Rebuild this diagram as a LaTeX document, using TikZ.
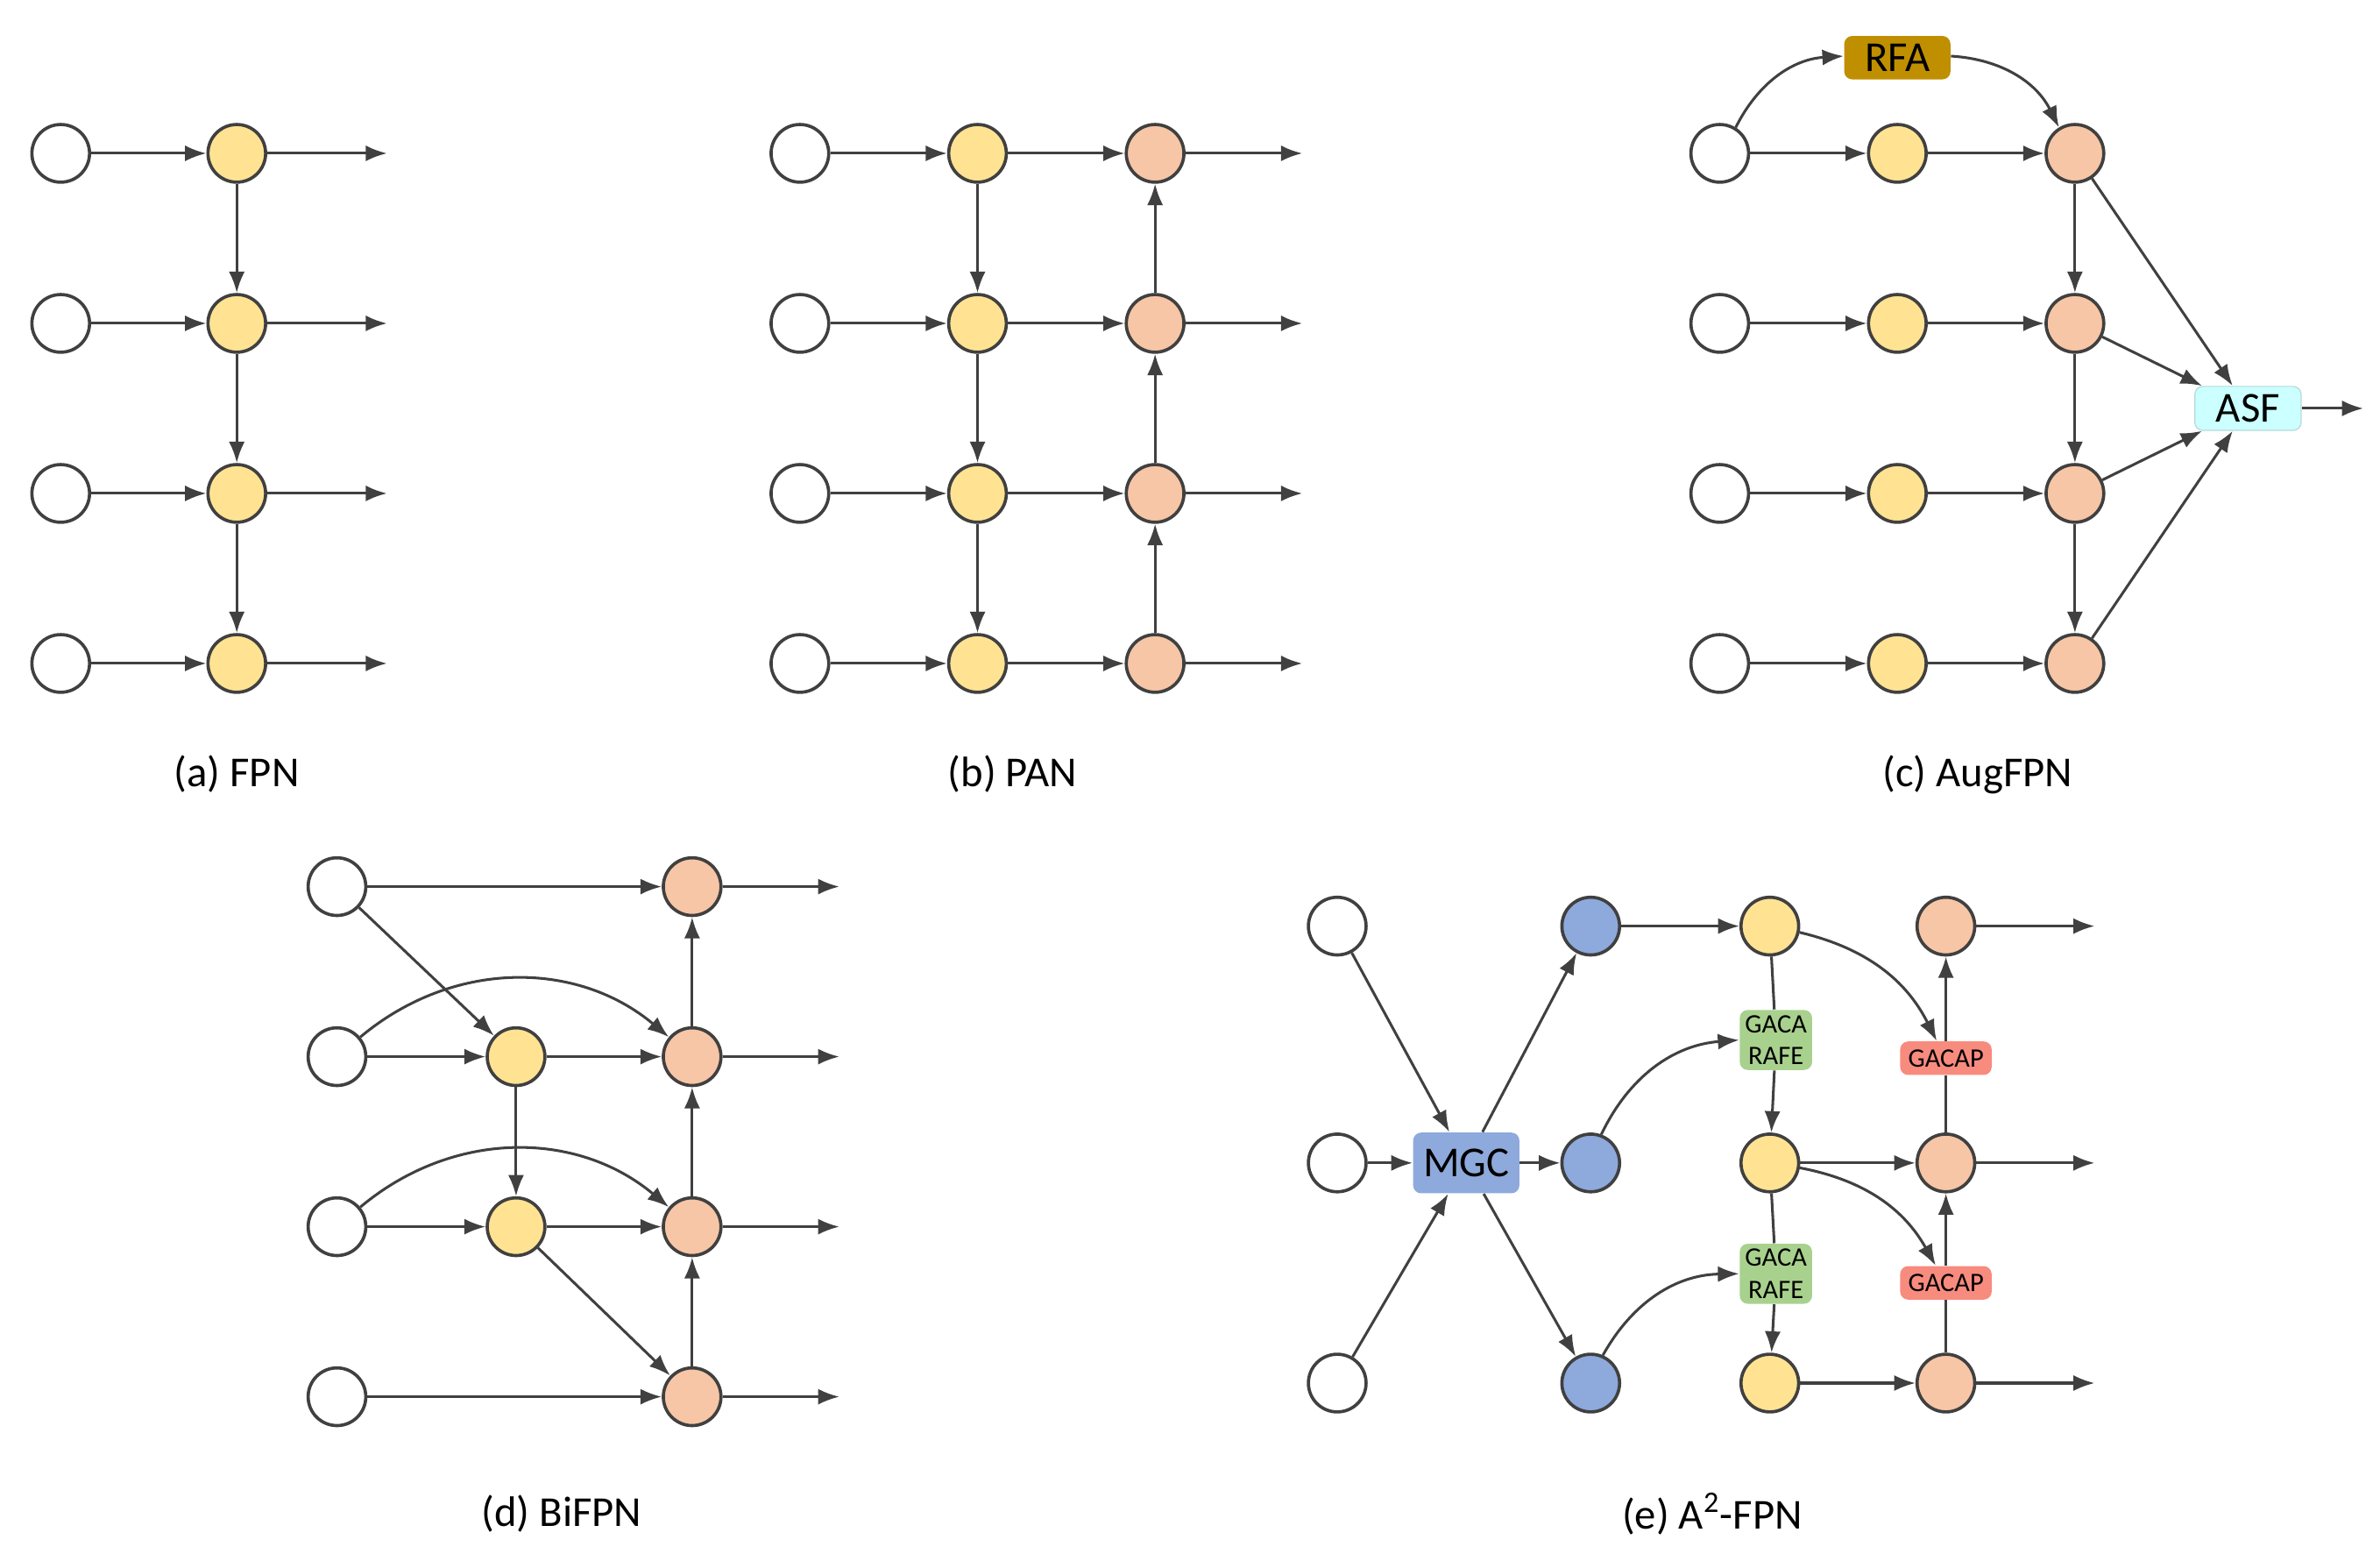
\documentclass[tikz,border=0pt]{standalone}
\usepackage{fontspec}
\setmainfont{Carlito}
\usetikzlibrary{arrows.meta}
\definecolor{ln}{HTML}{404040}
\definecolor{yel}{HTML}{FFE393}
\definecolor{pch}{HTML}{F7C6A6}
\definecolor{blu}{HTML}{8EA9DB}
\definecolor{grn}{HTML}{A9D18E}
\definecolor{rd}{HTML}{F78B7E}
\definecolor{cyn}{HTML}{CCFFFF}
\definecolor{gld}{HTML}{BF8F00}
\begin{document}
\begin{tikzpicture}[x={(0.02cm,0)}, y={(0,-0.02cm)},
  every node/.style={font=\fontsize{16}{19}\selectfont},
  circ/.style={circle, draw=ln, line width=1.2pt, minimum size=0.76cm, inner sep=0pt},
  wn/.style={circ, fill=white}, yn/.style={circ, fill=yel}, pn/.style={circ, fill=pch}, bn/.style={circ, fill=blu},
  box/.style={rounded corners=3pt, inner sep=3pt, align=center},
  small/.style={font=\fontsize{10}{12}\selectfont},
  arr/.style={-{Latex[length=8pt,width=6pt]}, ln, line width=1pt},
  lin/.style={ln, line width=1pt}]
\useasboundingbox (0,0) rectangle (1568,1028);
% (a) FPN
\foreach \i/\r in {0/101,1/213,2/325,3/437}{
  \node[wn] (aw\i) at (40,\r) {};
  \node[yn] (ay\i) at (156,\r) {};
  \coordinate (ao\i) at (255,\r);
  \draw[arr] (aw\i) -- (ay\i); \draw[arr] (ay\i) -- (ao\i);}
\foreach \i/\j in {0/1,1/2,2/3} \draw[arr] (ay\i) -- (ay\j);
\node at (156,510) {(a) FPN};
% (b) PAN
\foreach \i/\r in {0/101,1/213,2/325,3/437}{
  \node[wn] (bw\i) at (527,\r) {};
  \node[yn] (by\i) at (644,\r) {};
  \node[pn] (bp\i) at (761,\r) {};
  \coordinate (bo\i) at (858,\r);
  \draw[arr] (bw\i) -- (by\i); \draw[arr] (by\i) -- (bp\i); \draw[arr] (bp\i) -- (bo\i);}
\foreach \i/\j in {0/1,1/2,2/3} {\draw[arr] (by\i) -- (by\j); \draw[arr] (bp\j) -- (bp\i);}
\node at (667,510) {(b) PAN};
% (c) AugFPN
\node[box, fill=cyn, draw=cyn!70!gray, minimum width=1.4cm] (asf) at (1481,269) {ASF};
\node[box, fill=gld, minimum width=1.4cm] (rfa) at (1250,38) {RFA};
\coordinate (co) at (1557,269);
\foreach \i/\r in {0/101,1/213,2/325,3/437}{
  \node[wn] (cw\i) at (1133,\r) {};
  \node[yn] (cy\i) at (1250,\r) {};
  \node[pn] (cp\i) at (1367,\r) {};
  \draw[arr] (cw\i) -- (cy\i); \draw[arr] (cy\i) -- (cp\i); \draw[arr] (cp\i) -- (asf);}
\foreach \i/\j in {0/1,1/2,2/3} \draw[arr] (cp\i) -- (cp\j);
\draw[arr] (cw0) to[bend left=30] (rfa);
\draw[arr] (rfa) to[bend left=30] (cp0);
\draw[arr] (asf) -- (co);
\node at (1303,510) {(c) AugFPN};
% (d) BiFPN
\foreach \i/\r in {0/584,1/696,2/808,3/920}{
  \node[wn] (dw\i) at (222,\r) {};
  \node[pn] (dp\i) at (456,\r) {};
  \coordinate (do\i) at (553,\r);
  \draw[arr] (dp\i) -- (do\i);}
\node[yn] (dy1) at (340,696) {};
\node[yn] (dy2) at (340,808) {};
\draw[arr] (dw0) -- (dp0);
\draw[arr] (dw0) -- (dy1);
\draw[arr] (dw1) -- (dy1); \draw[arr] (dy1) -- (dp1);
\draw[arr] (dw1) to[bend left=40] (dp1);
\draw[arr] (dy1) -- (dy2);
\draw[arr] (dw2) -- (dy2); \draw[arr] (dy2) -- (dp2);
\draw[arr] (dw2) to[bend left=40] (dp2);
\draw[arr] (dy2) -- (dp3);
\draw[arr] (dw3) -- (dp3);
\foreach \i/\j in {0/1,1/2,2/3} \draw[arr] (dp\j) -- (dp\i);
\node at (370,997) {(d) BiFPN};
% (e) A^2-FPN
\node[box, fill=blu, minimum width=1.4cm, minimum height=0.8cm] (mgc) at (966,766) {MGC};
\node[box, fill=grn, small, inner sep=2pt] (g0) at (1170,685) {GACA\\RAFE};
\node[box, fill=grn, small, inner sep=2pt] (g1) at (1170,839) {GACA\\RAFE};
\node[box, fill=rd, small, inner sep=3pt] (r0) at (1282,697) {GACAP};
\node[box, fill=rd, small, inner sep=3pt] (r1) at (1282,845) {GACAP};
\foreach \i/\r in {0/610,1/766,2/911}{
  \node[wn] (ew\i) at (881,\r) {};
  \node[bn] (eb\i) at (1048,\r) {};
  \node[yn] (ey\i) at (1166,\r) {};
  \node[pn] (ep\i) at (1282,\r) {};
  \coordinate (eo\i) at (1380,\r);
  \draw[arr] (ew\i) -- (mgc); \draw[arr] (mgc) -- (eb\i); \draw[arr] (ep\i) -- (eo\i);}
\draw[arr] (eb0) -- (ey0);
\draw[arr] (ey1) -- (ep1); \draw[arr] (ey2) -- (ep2);
\draw[lin] (ey0) -- (g0); \draw[arr] (g0) -- (ey1);
\draw[lin] (ey1) -- (g1); \draw[arr] (g1) -- (ey2);
\draw[arr] (eb1) to[bend left=30] (g0.west);
\draw[arr] (eb2) to[bend left=30] (g1.west);
\draw[arr] (ey0) to[bend left=25] (r0);
\draw[arr] (ey1) to[bend left=25] (r1);
\draw[lin] (ep1) -- (r0); \draw[arr] (r0) -- (ep0);
\draw[lin] (ep2) -- (r1); \draw[arr] (r1) -- (ep1);
\node at (1128,997) {(e) A\textsuperscript{2}-FPN};
\end{tikzpicture}
\end{document}
